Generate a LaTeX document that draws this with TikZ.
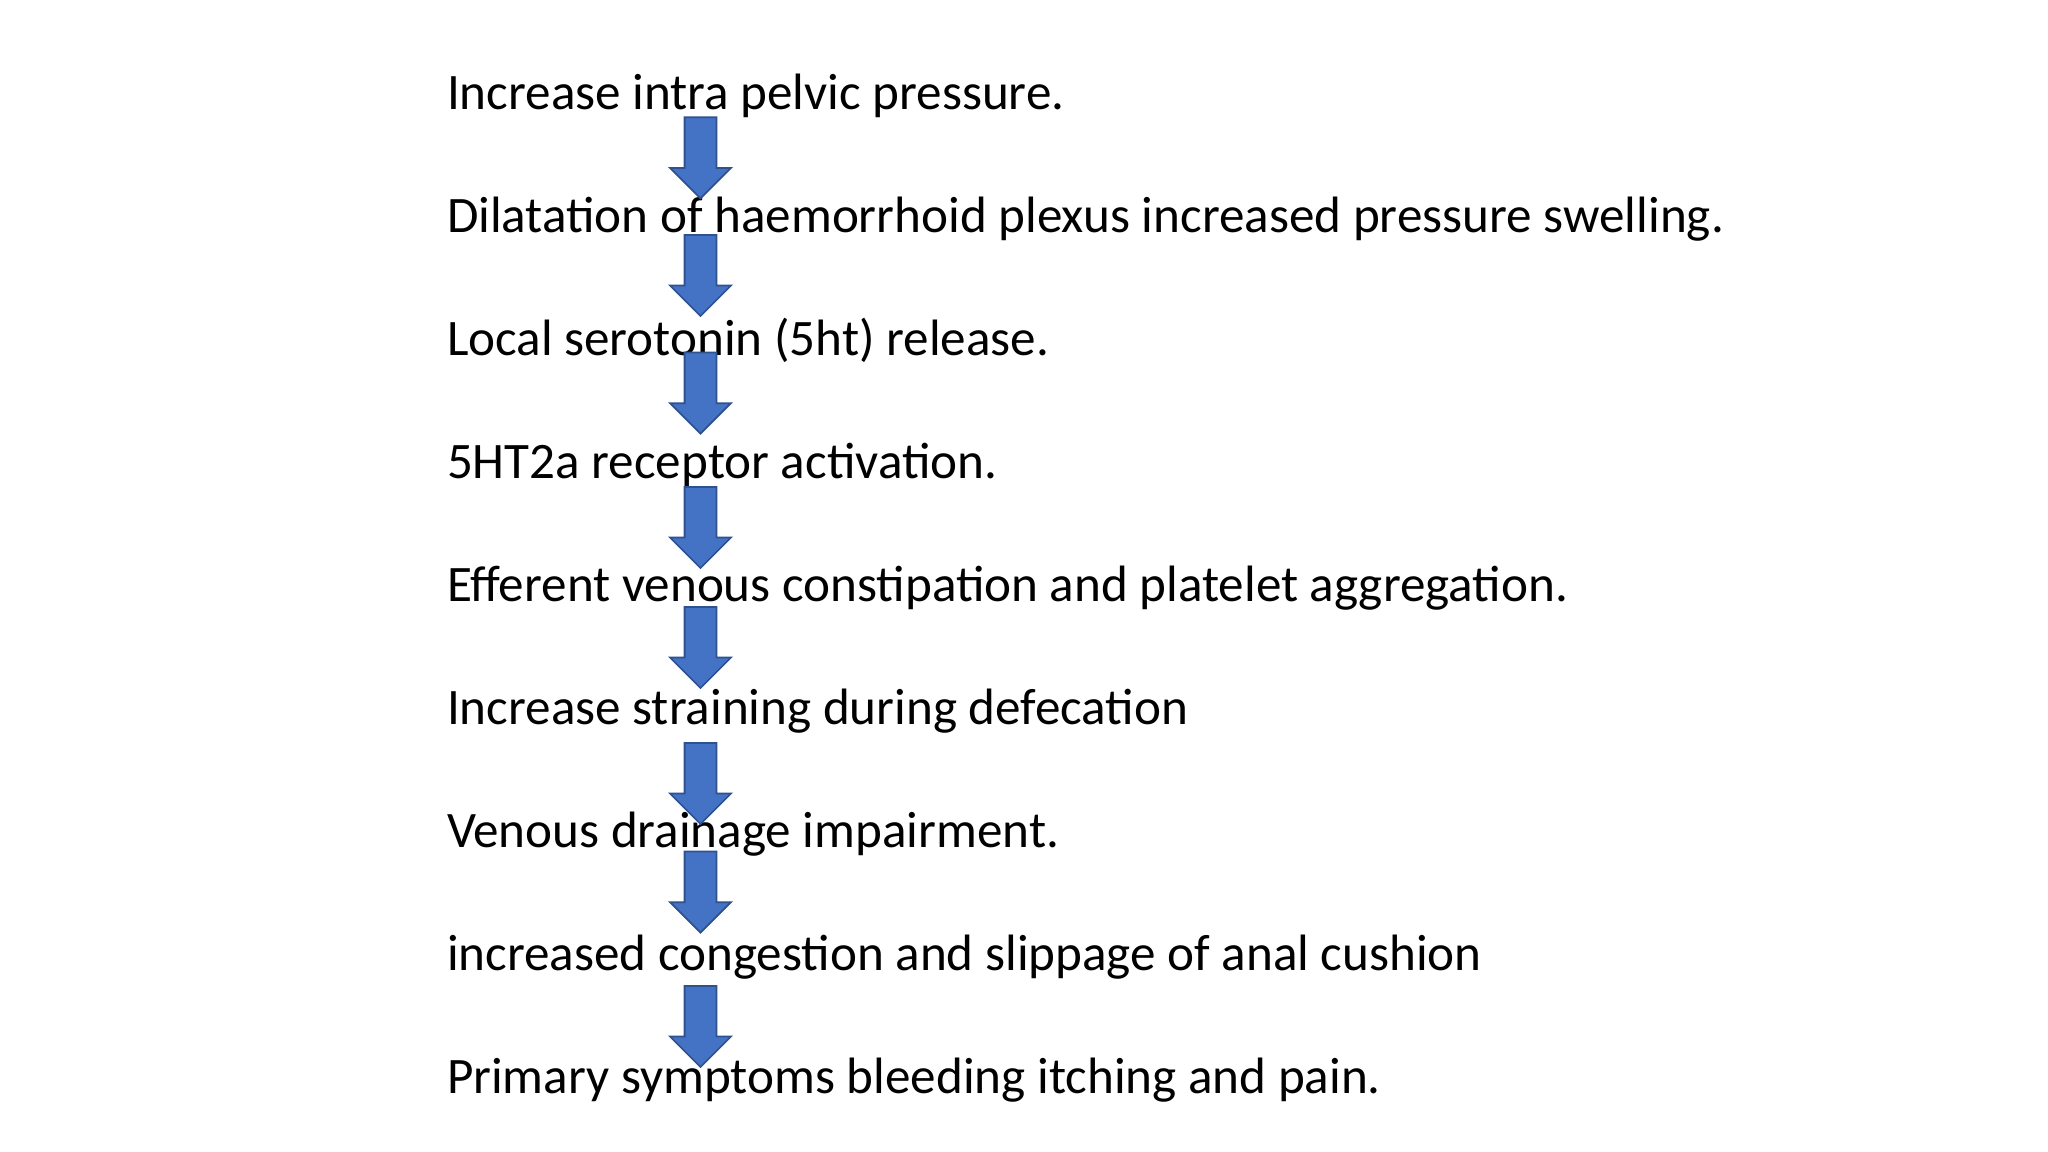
\documentclass[tikz,border=0pt]{standalone}
\usepackage{fontspec}
\setmainfont{Carlito}
\usepackage{tikz}
\usetikzlibrary{positioning,shapes.arrows}

\definecolor{arrowfill}{HTML}{4472C4}
\definecolor{arrowline}{HTML}{2F528F}

\tikzset{
  stage/.style={inner sep=0pt, outer sep=0pt, text height=0.45cm, text depth=0.15cm,
    font=\fontsize{14.55pt}{17pt}\selectfont},
  blockarrow/.style={single arrow, draw=arrowline, fill=arrowfill,
    line width=0.5pt, rotate=-90, anchor=tail, inner sep=0.15cm, outer sep=0pt,
    minimum height=0.81cm, single arrow head extend=0.145cm,
    single arrow tip angle=90}
}

\begin{document}
\begin{tikzpicture}[node distance=0.629cm]
      \useasboundingbox[fill=white] (0,0) rectangle (20.48,-11.52);

      \node[stage,anchor=base west] (l1) at (4.47,-1.10) {Increase intra pelvic pressure.};
      \node[stage,below=of l1.south west,anchor=north west] (l2) {Dilatation of haemorrhoid plexus increased pressure swelling.};
      \node[stage,below=of l2.south west,anchor=north west] (l3) {Local serotonin (5ht) release.};
      \node[stage,below=of l3.south west,anchor=north west] (l4) {5HT2a receptor activation.};
      \node[stage,below=of l4.south west,anchor=north west] (l5) {Efferent venous constipation and platelet aggregation.};
      \node[stage,below=of l5.south west,anchor=north west] (l6) {Increase straining during defecation};
      \node[stage,below=of l6.south west,anchor=north west] (l7) {Venous drainage impairment.};
      \node[stage,below=of l7.south west,anchor=north west] (l8) {increased congestion and slippage of anal cushion};
      \node[stage,below=of l8.south west,anchor=north west] (l9) {Primary symptoms bleeding itching and pain.};

      % block arrows between the steps
      \node[blockarrow] (a1) at (7.005,-1.173) {};
      \node[blockarrow] (a2) at (7.005,-2.35) {};
      \node[blockarrow] (a3) at (7.005,-3.526) {};
      \node[blockarrow] (a4) at (7.005,-4.87) {};
      \node[blockarrow] (a5) at (7.005,-6.07) {};
      \node[blockarrow] (a6) at (7.005,-7.43) {};
      \node[blockarrow] (a7) at (7.005,-8.516) {};
      \node[blockarrow] (a8) at (7.005,-9.86) {};
    \end{tikzpicture}
\end{document}
